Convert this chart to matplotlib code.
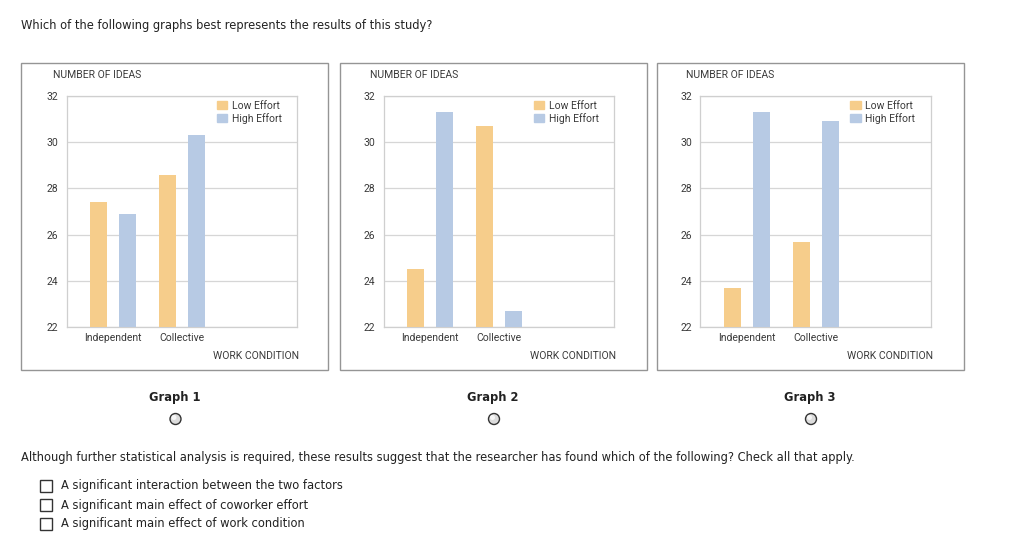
import matplotlib
matplotlib.use('Agg')
import matplotlib.pyplot as plt
from matplotlib.patches import Rectangle, Patch, Circle

# data
conditions = ['Independent', 'Collective']
series = ['Low Effort', 'High Effort']
graph_names = ['Graph 1', 'Graph 2', 'Graph 3']
low_effort = [[27.4, 28.6], [24.5, 30.7], [23.7, 25.7]]
high_effort = [[26.9, 30.3], [31.3, 22.7], [31.3, 30.9]]
y_ticks = [22, 24, 26, 28, 30, 32]

question = 'Which of the following graphs best represents the results of this study?'
followup = ('Although further statistical analysis is required, these results suggest '
            'that the researcher has found which of the following? Check all that apply.')
options = ['A significant interaction between the two factors',
           'A significant main effect of coworker effort',
           'A significant main effect of work condition']

LOW_COLOR = '#f6cd8b'
HIGH_COLOR = '#b7cae4'
CHART_FONT = ['Roboto', 'DejaVu Sans']
PAGE_FONT = ['DejaVu Sans']
CHART_FS = 7.5
PAGE_FS = 8.3

W, H = 1024, 541
fig = plt.figure(figsize=(W / 100, H / 100), dpi=100)
fig.patch.set_facecolor('white')

# overlay in pixel coordinates (origin top-left) for the page furniture
page = fig.add_axes([0, 0, 1, 1], zorder=-1)
page.set_xlim(0, W)
page.set_ylim(H, 0)
page.axis('off')

page.text(21, 26, question, fontsize=PAGE_FS, family=PAGE_FONT,
          va='center', ha='left', color='#222222')

box_lefts = [21, 339.5, 656.5]
axes_lefts = [66.7, 383.5, 700.3]
axes_w = 230.5
ax_top, ax_bot = 96, 327

for i in range(3):
    bl = box_lefts[i]
    page.add_patch(Rectangle((bl, 63), 307, 307, fill=False,
                             edgecolor='#959595', lw=1.0))
    al = axes_lefts[i]
    ax = fig.add_axes([al / W, 1 - ax_bot / H, axes_w / W, (ax_bot - ax_top) / H])
    pos = [0, 1]
    ax.bar([p - 0.21 for p in pos], low_effort[i], width=0.246, bottom=0,
           color=LOW_COLOR, zorder=3)
    ax.bar([p + 0.21 for p in pos], high_effort[i], width=0.246, bottom=0,
           color=HIGH_COLOR, zorder=3)
    ax.set_ylim(22, 32)
    ax.set_xlim(-0.67, 2.67)
    ax.set_yticks(y_ticks)
    ax.set_xticks(pos)
    ax.set_xticklabels(conditions)
    ax.tick_params(length=0, labelsize=CHART_FS, colors='#3a3a3a', pad=6)
    ax.tick_params(axis='x', pad=4)
    for lab in ax.get_xticklabels() + ax.get_yticklabels():
        lab.set_family(CHART_FONT)
    ax.grid(axis='y', color='#d6d6d6', lw=0.9, zorder=0)
    for s in ax.spines.values():
        s.set_color('#cfcfcf')
        s.set_linewidth(0.9)
    page.text(al - 14, 75, 'NUMBER OF IDEAS', fontsize=CHART_FS,
              family=CHART_FONT, color='#3a3a3a', va='center', ha='left')
    page.text(al + axes_w + 2, 356, 'WORK CONDITION', fontsize=CHART_FS,
              family=CHART_FONT, color='#3a3a3a', va='center', ha='right')
    handles = [Patch(color=LOW_COLOR, label=series[0]),
               Patch(color=HIGH_COLOR, label=series[1])]
    leg = ax.legend(handles=handles, loc='upper left',
                    bbox_to_anchor=((al + 150) / W, 1 - 101 / H),
                    bbox_transform=fig.transFigure, frameon=False,
                    fontsize=CHART_FS, handlelength=1.0, handleheight=0.8,
                    handletextpad=0.45, labelspacing=0.2, borderpad=0,
                    borderaxespad=0)
    for t in leg.get_texts():
        t.set_family(CHART_FONT)
        t.set_color('#3a3a3a')

    cx = bl + 153.5
    page.text(cx, 398, graph_names[i], fontsize=PAGE_FS, family=PAGE_FONT,
              fontweight='bold', ha='center', va='center', color='#222222')
    page.add_patch(Circle((cx + 1, 419), 5.5, facecolor='#dcdcdc',
                          edgecolor='#333333', lw=1.0))
    page.add_patch(Circle((cx - 0.5, 417.5), 2.5, facecolor='#f6f6f6',
                          edgecolor='none'))

page.text(21, 457, followup, fontsize=PAGE_FS, family=PAGE_FONT,
          va='center', ha='left', color='#222222')
for k, opt in enumerate(options):
    y = 486 + 19 * k
    page.add_patch(Rectangle((39.5, y - 6), 12, 12, facecolor='white',
                             edgecolor='#333333', lw=1.0))
    page.text(61, y, opt, fontsize=PAGE_FS, family=PAGE_FONT,
              va='center', ha='left', color='#222222')

fig.savefig('out.png', dpi=100)
